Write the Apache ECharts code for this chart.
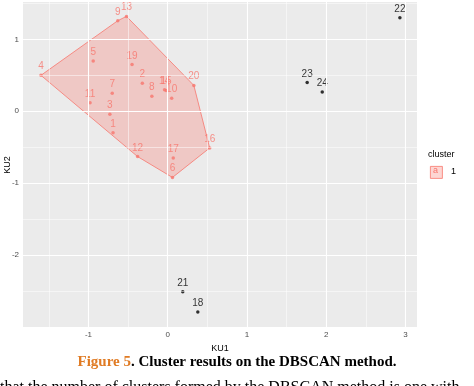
<!DOCTYPE html>
<html><head><meta charset="utf-8">
<script src="https://cdn.jsdelivr.net/npm/echarts@6/dist/echarts.min.js"></script>
<style>html,body{margin:0;padding:0;background:#fff}#c{width:474px;height:386px}</style>
</head><body><div id="c"></div>
<script>
// Cluster 1 points: [KU1, KU2, label]
const clusterIds = ['1','2','3','4','5','6','7','8','9','10','11','12','13','14','15','16','17','19','20'];
const clusterKU1 = [-0.69,-0.32,-0.73,-1.60,-0.94,0.06,-0.70,-0.20,-0.63,0.05,-0.98,-0.38,-0.52,-0.04,-0.02,0.53,0.07,-0.45,0.33];
const clusterKU2 = [-0.30,0.39,-0.04,0.50,0.70,-0.92,0.25,0.21,1.26,0.18,0.12,-0.63,1.32,0.30,0.29,-0.51,-0.65,0.65,0.36];
// Noise points
const noiseIds = ['18','21','22','23','24'];
const noiseKU1 = [0.38,0.19,2.93,1.76,1.95];
const noiseKU2 = [-2.79,-2.51,1.30,0.40,0.27];
// Convex hull order of cluster 1
const hullIds = ['4','9','13','20','16','6','12'];
const xTicks = [-1,0,1,2,3];
const yTicks = [-2,-1,0,1];
const xMinor = [-1.5,-0.5,0.5,1.5,2.5];
const yMinor = [-2.5,-1.5,-0.5,0.5,1.5];

const RED = '#F8766D';
const clusterData = clusterIds.map((id,i)=>[clusterKU1[i],clusterKU2[i],id]);
const noiseData = noiseIds.map((id,i)=>[noiseKU1[i],noiseKU2[i],id]);
const hullPts = hullIds.map(id=>{const i=clusterIds.indexOf(id);return [clusterKU1[i],clusterKU2[i]];});

const chart = echarts.init(document.getElementById('c'));
const gridLines = [].concat(
  xTicks.map(v=>({xAxis:v,lineStyle:{width:1.1}})),
  yTicks.map(v=>({yAxis:v,lineStyle:{width:1.1}})),
  xMinor.map(v=>({xAxis:v,lineStyle:{width:0.5}})),
  yMinor.map(v=>({yAxis:v,lineStyle:{width:0.5}}))
);
const axisCommon = {
  axisLine:{show:false},
  splitLine:{show:false},
  axisTick:{show:true,length:3,inside:false,lineStyle:{color:'#333',width:1}},
  axisLabel:{color:'#4D4D4D',fontSize:8,fontFamily:'Liberation Sans, Arial'},
  nameTextStyle:{color:'#000',fontSize:9,fontFamily:'Liberation Sans, Arial'}
};
chart.setOption({
  animation:false,
  backgroundColor:'#fff',
  grid:{left:23,right:57,top:2,bottom:59,show:true,backgroundColor:'#EBEBEB',borderWidth:0,containLabel:false,outerBoundsMode:'none'},
  xAxis:Object.assign({},axisCommon,{type:'value',min:-1.826,max:3.146,name:'KU1',nameLocation:'middle',nameGap:17,
    axisTick:Object.assign({},axisCommon.axisTick,{customValues:xTicks}),
    axisLabel:Object.assign({},axisCommon.axisLabel,{customValues:xTicks,margin:4})}),
  yAxis:Object.assign({},axisCommon,{type:'value',min:-3.0,max:1.52,
    axisTick:Object.assign({},axisCommon.axisTick,{customValues:yTicks}),
    axisLabel:Object.assign({},axisCommon.axisLabel,{customValues:yTicks,margin:4})}),
  series:[
    {type:'scatter',data:[],silent:true,z:1,
     markLine:{silent:true,symbol:'none',label:{show:false},animation:false,
       lineStyle:{color:'#FFFFFF',type:'solid'},data:gridLines}},
    {type:'custom',z:2,silent:true,data:[0],
     renderItem:function(params,api){
       const pts = hullPts.map(p=>api.coord(p));
       return {type:'polygon',shape:{points:pts},
         style:{fill:'rgba(248,118,109,0.3)',stroke:RED,lineWidth:0.8}};
     }},
    {type:'scatter',z:3,data:clusterData,symbolSize:3.5,itemStyle:{color:RED},
     label:{show:true,position:'top',distance:2,formatter:p=>p.data[2],color:RED,fontSize:10,fontFamily:'Liberation Sans, Arial'}},
    {type:'scatter',z:3,data:noiseData,symbolSize:3.5,itemStyle:{color:'#000'},
     label:{show:true,position:'top',distance:2,formatter:p=>p.data[2],color:'#000',fontSize:10,fontFamily:'Liberation Sans, Arial'}}
  ],
  graphic:[
    {type:'text',x:3,y:165,rotation:Math.PI/2,style:{text:'KU2',fill:'#000',fontSize:9,fontFamily:'Liberation Sans, Arial',align:'center',verticalAlign:'top'}},
    {type:'text',left:428,top:150,style:{text:'cluster',fill:'#000',fontSize:9,fontFamily:'Liberation Sans, Arial'}},
    {type:'rect',left:430,top:166,shape:{width:12,height:12},style:{fill:'rgba(248,118,109,0.3)',stroke:RED,lineWidth:0.8}},
    {type:'text',left:433,top:166,style:{text:'a',fill:RED,fontSize:9,fontFamily:'Liberation Sans, Arial'}},
    {type:'text',left:451,top:167,style:{text:'1',fill:'#000',fontSize:9,fontFamily:'Liberation Sans, Arial'}},
    {type:'text',left:'center',top:355,style:{
      text:'{o|Figure 5}{b|. Cluster results on the DBSCAN method.}',
      rich:{o:{fill:'#E07B24',fontSize:15,fontWeight:'bold',fontFamily:'Liberation Serif, Times New Roman'},
            b:{fill:'#000',fontSize:15,fontWeight:'bold',fontFamily:'Liberation Serif, Times New Roman'}}}},
    {type:'text',left:0,top:380,style:{text:'that the number of clusters formed by the DBSCAN method is one with',
      fill:'#000',fontSize:16,fontFamily:'Liberation Serif, Times New Roman'}}
  ]
});
</script></body></html>
